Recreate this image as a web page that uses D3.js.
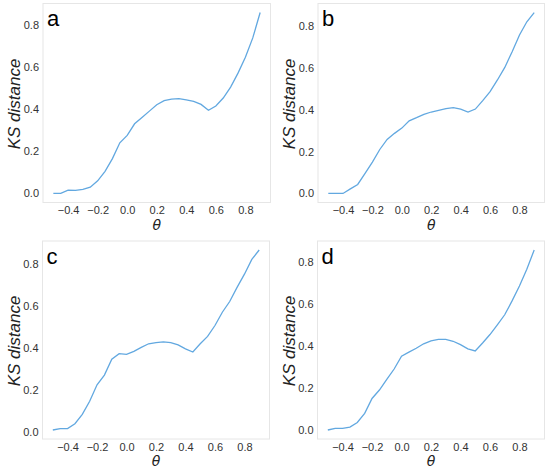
<!DOCTYPE html>
<html><head><meta charset="utf-8">
<script src="https://cdn.jsdelivr.net/npm/d3@7"></script>
<style>body{margin:0;background:#fff}svg{display:block}</style>
</head><body>
<svg id="chart" width="550" height="471"></svg>
<script>
const theta = [-0.5,-0.45,-0.4,-0.35,-0.3,-0.25,-0.2,-0.15,-0.1,-0.05,0.0,0.05,0.1,0.15,0.2,0.25,0.3,0.35,0.4,0.45,0.5,0.55,0.6,0.65,0.7,0.75,0.8,0.85,0.9];
const ksA = [0.0,0.0,0.016,0.015,0.019,0.03,0.06,0.105,0.165,0.24,0.275,0.33,0.36,0.39,0.42,0.44,0.447,0.449,0.443,0.436,0.422,0.394,0.414,0.452,0.504,0.57,0.645,0.737,0.857];
const ksB = [0.0,0.0,0.0,0.022,0.043,0.096,0.15,0.21,0.258,0.287,0.312,0.347,0.362,0.378,0.389,0.397,0.405,0.41,0.403,0.389,0.403,0.443,0.486,0.542,0.602,0.677,0.757,0.82,0.864];
const ksC = [0.009,0.016,0.016,0.039,0.083,0.146,0.224,0.27,0.346,0.372,0.369,0.383,0.402,0.419,0.425,0.428,0.425,0.414,0.395,0.38,0.419,0.454,0.506,0.569,0.62,0.687,0.75,0.82,0.865];
const ksD = [0.0,0.008,0.008,0.014,0.036,0.079,0.15,0.19,0.241,0.29,0.351,0.37,0.389,0.41,0.424,0.431,0.431,0.422,0.406,0.386,0.376,0.414,0.454,0.5,0.548,0.614,0.685,0.764,0.856];
const panelLetters = ["a","b","c","d"];
const xTicks = [-0.4,-0.2,0.0,0.2,0.4,0.6,0.8];
const yTicks = [0.0,0.2,0.4,0.6,0.8];

const series = [ksA, ksB, ksC, ksD];
const frames = [
  {x0:43, x1:270.5, y0:3.5, y1:202.5},
  {x0:318, x1:544.5, y0:3.5, y1:202.5},
  {x0:42.5, x1:269.5, y0:241, y1:439},
  {x0:317.5, x1:544.5, y0:241, y1:439}
];
const svg = d3.select("#chart");
const font = "'Liberation Sans', Arial, sans-serif";

series.forEach((vals, i) => {
  const f = frames[i];
  const xr = d3.extent(theta), xm = (xr[1]-xr[0])*0.05;
  const yr = d3.extent(vals), ym = (yr[1]-yr[0])*0.05;
  const x = d3.scaleLinear().domain([xr[0]-xm, xr[1]+xm]).range([f.x0, f.x1]);
  const y = d3.scaleLinear().domain([yr[0]-ym, yr[1]+ym]).range([f.y1, f.y0]);
  const g = svg.append("g");

  g.append("rect").attr("x", f.x0).attr("y", f.y0)
    .attr("width", f.x1-f.x0).attr("height", f.y1-f.y0)
    .attr("fill", "none").attr("stroke", "#e6e6e6").attr("stroke-width", 1);

  const xa = g.append("g").attr("transform", `translate(0,${f.y1})`)
    .call(d3.axisBottom(x).tickValues(xTicks).tickSize(0).tickPadding(4)
      .tickFormat(d => d3.format(".1f")(d).replace("-", "\u2212")));
  xa.select(".domain").remove();
  xa.selectAll("text").attr("font-family", font).attr("font-size", 11).attr("fill", "#333");

  const ya = g.append("g").attr("transform", `translate(${f.x0},0)`)
    .call(d3.axisLeft(y).tickValues(yTicks).tickSize(0).tickPadding(4).tickFormat(d3.format(".1f")));
  ya.select(".domain").remove();
  ya.selectAll("text").attr("font-family", font).attr("font-size", 11).attr("fill", "#333");

  const line = d3.line().x((d, k) => x(theta[k])).y(d => y(d));
  g.append("path").datum(vals).attr("d", line)
    .attr("fill", "none").attr("stroke", "#62a8e0").attr("stroke-width", 1.3);

  g.append("text").attr("x", f.x0 + 4).attr("y", f.y0 + 22.5)
    .attr("font-family", font).attr("font-size", 22).attr("fill", "#000")
    .text(panelLetters[i]);

  g.append("text").attr("x", (f.x0+f.x1)/2).attr("y", f.y1 + 27)
    .attr("text-anchor", "middle").attr("font-family", "'DejaVu Sans', sans-serif")
    .attr("font-style", "italic").attr("font-size", 14).attr("fill", "#222").text("\u03b8");

  g.append("text")
    .attr("transform", `translate(${f.x0 - 23},${(f.y0+f.y1)/2 + 1}) rotate(-90)`)
    .attr("text-anchor", "middle").attr("font-family", font)
    .attr("font-style", "italic").attr("font-size", 17).attr("fill", "#222").text("KS distance");
});
</script>
</body></html>
